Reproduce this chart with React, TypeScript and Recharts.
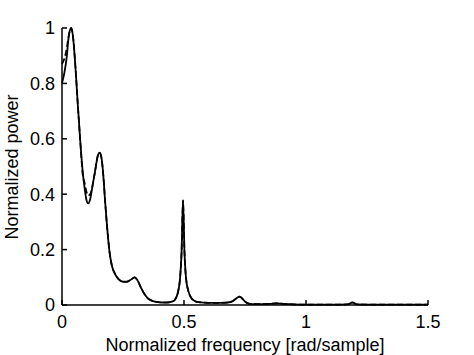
import { Label, Line, LineChart, XAxis, YAxis } from 'recharts';

// normalized frequency [rad/sample]
const freq = [
  0, 0.01, 0.02, 0.025, 0.032, 0.038, 0.045, 0.055, 0.065, 0.075, 0.085, 0.093, 0.1, 0.107, 0.115, 0.125,
  0.135, 0.147, 0.154, 0.162, 0.17, 0.177, 0.185, 0.195, 0.205, 0.216, 0.23, 0.25, 0.265, 0.28, 0.298, 0.31,
  0.325, 0.34, 0.352, 0.37, 0.387, 0.41, 0.43, 0.45, 0.462, 0.475, 0.485, 0.49, 0.496, 0.502, 0.508, 0.518,
  0.53, 0.545, 0.56, 0.6, 0.65, 0.68, 0.7, 0.715, 0.728, 0.74, 0.752, 0.765, 0.8, 0.85, 0.88, 0.91, 0.95, 1.0,
  1.1, 1.17, 1.19, 1.21, 1.3, 1.5,
];

const solidPower = [
  0.8, 0.84, 0.9, 0.95, 0.99, 1.0, 0.97, 0.86, 0.72, 0.59, 0.48, 0.42, 0.38, 0.367, 0.38, 0.43,
  0.48, 0.54, 0.55, 0.53, 0.46, 0.37, 0.28, 0.19, 0.14, 0.114, 0.095, 0.084, 0.084, 0.09, 0.1, 0.088,
  0.06, 0.037, 0.024, 0.015, 0.011, 0.009, 0.009, 0.012, 0.018, 0.045, 0.11, 0.19, 0.378, 0.19, 0.1, 0.05,
  0.025, 0.014, 0.01, 0.008, 0.008, 0.009, 0.014, 0.024, 0.03, 0.022, 0.011, 0.005, 0.003, 0.004, 0.006, 0.004, 0.002, 0.001,
  0.001, 0.002, 0.009, 0.002, 0.001, 0.001,
];

const dashedPower = [
  0.87, 0.89, 0.93, 0.96, 0.99, 1.0, 0.97, 0.86, 0.72, 0.59, 0.47, 0.44, 0.41, 0.395, 0.4, 0.43,
  0.48, 0.54, 0.55, 0.53, 0.46, 0.37, 0.28, 0.19, 0.14, 0.114, 0.095, 0.084, 0.084, 0.09, 0.1, 0.088,
  0.06, 0.037, 0.024, 0.015, 0.011, 0.009, 0.009, 0.012, 0.018, 0.045, 0.11, 0.19, 0.378, 0.19, 0.1, 0.05,
  0.025, 0.014, 0.01, 0.008, 0.008, 0.009, 0.014, 0.024, 0.03, 0.022, 0.011, 0.005, 0.003, 0.004, 0.006, 0.004, 0.002, 0.001,
  0.001, 0.002, 0.009, 0.002, 0.001, 0.001,
];

const xTicks = [0, 0.5, 1, 1.5];
const yTicks = [0, 0.2, 0.4, 0.6, 0.8, 1];

const data = freq.map((f, i) => ({ f, solid: solidPower[i], dashed: dashedPower[i] }));

const FONT = '"Liberation Sans", Arial, Helvetica, sans-serif';
const tick = { fill: '#000', fontSize: 18, fontFamily: FONT };

export default function App() {
  return (
    <div>
      <style>{'body{margin:0;background:#fff}'}</style>
      <LineChart width={474} height={355} data={data} margin={{ top: 28, right: 46, bottom: 0, left: 0 }}>
        <XAxis
          type="number"
          dataKey="f"
          domain={[0, 1.5]}
          ticks={xTicks}
          tickFormatter={(v) => String(v)}
          height={50}
          tick={tick}
          tickSize={-5}
          tickMargin={15}
          stroke="#000"
          strokeWidth={1.5}
        >
          <Label
            content={() => (
              <text x={245} y={351} textAnchor="middle" fontSize={18} fontFamily={FONT} fill="#000">
                Normalized frequency [rad/sample]
              </text>
            )}
          />
        </XAxis>
        <YAxis
          type="number"
          domain={[0, 1]}
          ticks={yTicks}
          tickFormatter={(v) => String(v)}
          width={62}
          tick={tick}
          tickSize={-5}
          tickMargin={12}
          stroke="#000"
          strokeWidth={1.5}
        >
          <Label
            content={() => (
              <text x={18} y={167} transform="rotate(-90, 18, 167)" textAnchor="middle" fontSize={18} fontFamily={FONT} fill="#000">
                Normalized power
              </text>
            )}
          />
        </YAxis>
        <Line type="monotone" dataKey="dashed" stroke="#000" strokeWidth={1.7} strokeDasharray="6 3" dot={false} isAnimationActive={false} />
        <Line type="monotone" dataKey="solid" stroke="#000" strokeWidth={1.8} dot={false} isAnimationActive={false} />
      </LineChart>
    </div>
  );
}
